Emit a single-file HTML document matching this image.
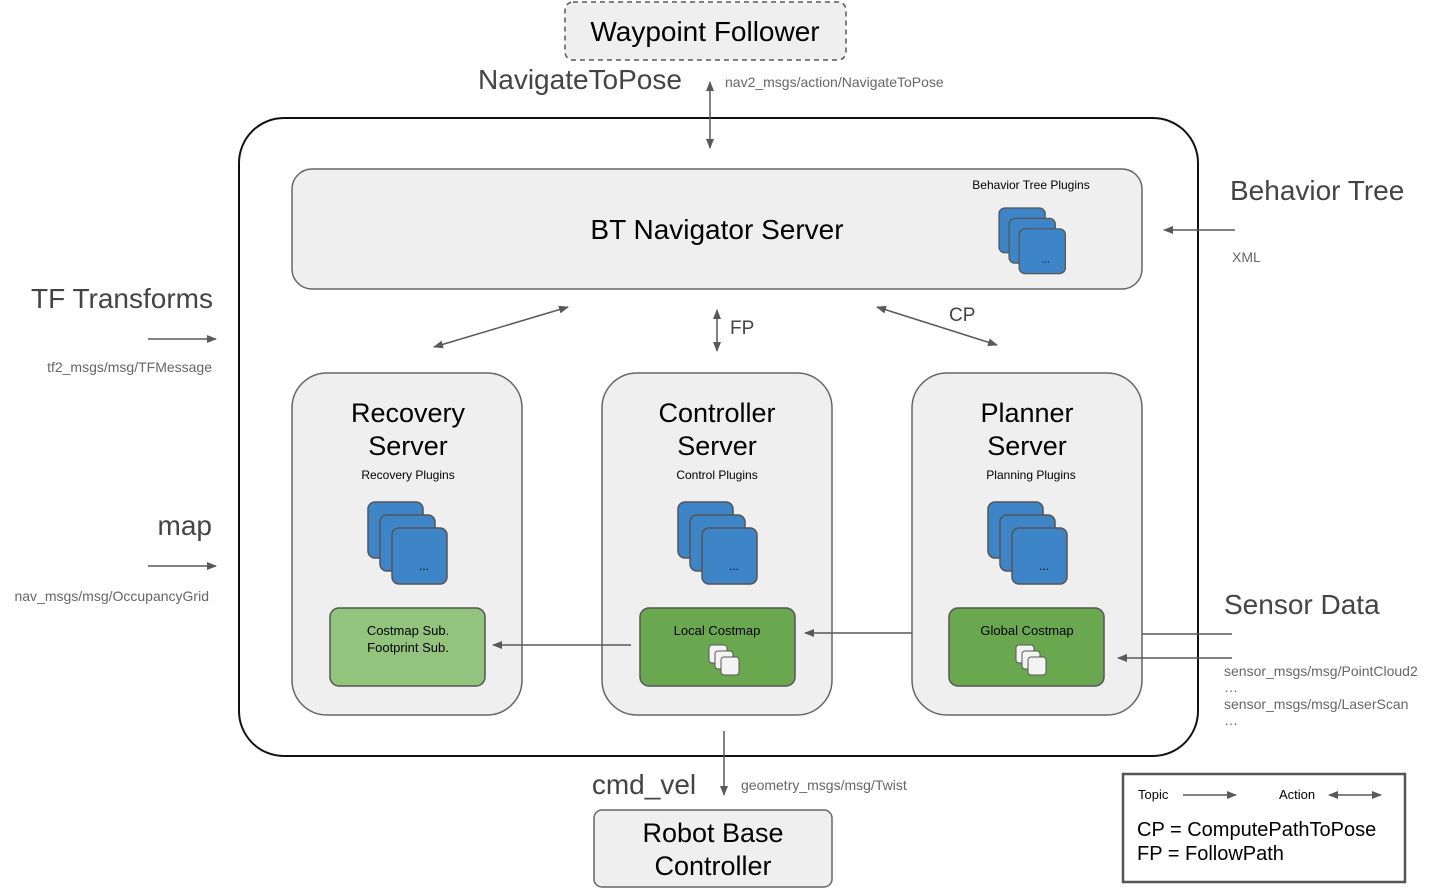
<!DOCTYPE html>
<html><head><style>
html,body{margin:0;padding:0;background:#fff;width:1440px;height:888px;overflow:hidden}
svg text{font-family:"Liberation Sans",Arial,sans-serif}
</style></head><body>
<svg width="1440" height="888" viewBox="0 0 1440 888" xmlns="http://www.w3.org/2000/svg">
<defs>
<marker id="a" viewBox="0 0 10 10" refX="9" refY="5" markerWidth="10" markerHeight="10" markerUnits="userSpaceOnUse" orient="auto-start-reverse"><path d="M0,1 L10,5 L0,9 z" fill="#595959"/></marker>
<g id="stk">
<rect x="0" y="0" width="55" height="56" rx="7" fill="#3d85c6" stroke="#555" stroke-width="1.5"/>
<rect x="12" y="13" width="55" height="56" rx="7" fill="#3d85c6" stroke="#555" stroke-width="1.5"/>
<rect x="24" y="26" width="55" height="56" rx="7" fill="#3d85c6" stroke="#555" stroke-width="1.5"/>
<text x="56" y="68" font-size="12" text-anchor="middle" fill="#000">...</text>
</g>
<g id="mini">
<rect x="0" y="0" width="18" height="18" rx="3" fill="#f3f3f3" stroke="#555"/>
<rect x="6" y="6" width="18" height="18" rx="3" fill="#f3f3f3" stroke="#555"/>
<rect x="12" y="12" width="18" height="18" rx="3" fill="#f3f3f3" stroke="#555"/>
</g>
</defs>
<rect x="565" y="2" width="281" height="58" rx="8" fill="#efefef" stroke="#595959" stroke-width="1.5" stroke-dasharray="5,4"/>
<text x="705" y="41" font-size="28" text-anchor="middle" fill="#000">Waypoint Follower</text>
<text x="580" y="89" font-size="28" text-anchor="middle" fill="#444">NavigateToPose</text>
<text x="725" y="87" font-size="14" fill="#666">nav2_msgs/action/NavigateToPose</text>

<rect x="239" y="118" width="959" height="638" rx="45" fill="#fff" stroke="#111" stroke-width="2"/>
<g stroke="#595959" stroke-width="1.5" fill="none">
<line x1="710" y1="82" x2="710" y2="148" marker-start="url(#a)" marker-end="url(#a)"/>
</g>
<rect x="292" y="169" width="850" height="120" rx="20" fill="#efefef" stroke="#666" stroke-width="1.5"/>
<text x="717" y="239" font-size="28" text-anchor="middle" fill="#000">BT Navigator Server</text>
<text x="1031" y="189" font-size="12" text-anchor="middle" fill="#000">Behavior Tree Plugins</text>
<g transform="translate(999,208) scale(0.84,0.8)"><use href="#stk"/></g>

<rect x="292" y="373" width="230" height="342" rx="35" fill="#efefef" stroke="#666" stroke-width="1.5"/>
<rect x="602" y="373" width="230" height="342" rx="35" fill="#efefef" stroke="#666" stroke-width="1.5"/>
<rect x="912" y="373" width="230" height="342" rx="35" fill="#efefef" stroke="#666" stroke-width="1.5"/>
<g font-size="27" text-anchor="middle" fill="#000">
<text x="408" y="422">Recovery</text><text x="408" y="455">Server</text>
<text x="717" y="422">Controller</text><text x="717" y="455">Server</text>
<text x="1027" y="422">Planner</text><text x="1027" y="455">Server</text>
</g>
<g font-size="12" text-anchor="middle" fill="#000">
<text x="408" y="479">Recovery Plugins</text>
<text x="717" y="479">Control Plugins</text>
<text x="1031" y="479">Planning Plugins</text>
</g>
<use href="#stk" x="368" y="502"/>
<use href="#stk" x="678" y="502"/>
<use href="#stk" x="988" y="502"/>

<rect x="330" y="608" width="155" height="78" rx="9" fill="#93c47d" stroke="#555" stroke-width="1.5"/>
<text x="408" y="635" font-size="13" text-anchor="middle" fill="#000">Costmap Sub.</text>
<text x="408" y="652" font-size="13" text-anchor="middle" fill="#000">Footprint Sub.</text>
<rect x="640" y="608" width="155" height="78" rx="9" fill="#6aa84f" stroke="#555" stroke-width="1.5"/>
<text x="717" y="635" font-size="13" text-anchor="middle" fill="#000">Local Costmap</text>
<use href="#mini" x="709" y="645"/>
<rect x="949" y="608" width="155" height="78" rx="9" fill="#6aa84f" stroke="#555" stroke-width="1.5"/>
<text x="1027" y="635" font-size="13" text-anchor="middle" fill="#000">Global Costmap</text>
<use href="#mini" x="1016" y="645"/>

<g stroke="#595959" stroke-width="1.5" fill="none">
<line x1="568" y1="307" x2="434" y2="347" marker-start="url(#a)" marker-end="url(#a)"/>
<line x1="717" y1="310" x2="717" y2="351" marker-start="url(#a)" marker-end="url(#a)"/>
<line x1="877" y1="307" x2="997" y2="345" marker-start="url(#a)" marker-end="url(#a)"/>
<line x1="631" y1="645" x2="493" y2="645" marker-end="url(#a)"/>
<line x1="912" y1="633" x2="805" y2="633" marker-end="url(#a)"/>
<line x1="1142" y1="634" x2="1232" y2="634"/>
<line x1="1232" y1="658" x2="1118" y2="658" marker-end="url(#a)"/>
<line x1="1235" y1="230" x2="1164" y2="230" marker-end="url(#a)"/>
<line x1="148" y1="339" x2="216" y2="339" marker-end="url(#a)"/>
<line x1="148" y1="566" x2="216" y2="566" marker-end="url(#a)"/>
<line x1="724" y1="731" x2="724" y2="795" marker-end="url(#a)"/>
</g>
<text x="730" y="334" font-size="19" fill="#444">FP</text>
<text x="949" y="321" font-size="19" fill="#444">CP</text>

<text x="1230" y="200" font-size="28" fill="#444">Behavior Tree</text>
<text x="1232" y="262" font-size="14" fill="#666">XML</text>
<text x="213" y="308" font-size="28" text-anchor="end" fill="#444">TF Transforms</text>
<text x="212" y="372" font-size="14" text-anchor="end" fill="#666">tf2_msgs/msg/TFMessage</text>
<text x="212" y="535" font-size="28" text-anchor="end" fill="#444">map</text>
<text x="209" y="601" font-size="14" text-anchor="end" fill="#666">nav_msgs/msg/OccupancyGrid</text>
<text x="1224" y="614" font-size="28" fill="#444">Sensor Data</text>
<g font-size="14" fill="#666">
<text x="1224" y="676">sensor_msgs/msg/PointCloud2</text>
<text x="1224" y="692">…</text>
<text x="1224" y="709">sensor_msgs/msg/LaserScan</text>
<text x="1224" y="725">…</text>
</g>
<text x="644" y="794" font-size="28" text-anchor="middle" fill="#444">cmd_vel</text>
<text x="741" y="790" font-size="14" fill="#666">geometry_msgs/msg/Twist</text>

<rect x="594" y="810" width="238" height="77" rx="8" fill="#efefef" stroke="#666" stroke-width="1.5"/>
<text x="713" y="842" font-size="27" text-anchor="middle" fill="#000">Robot Base</text>
<text x="713" y="875" font-size="27" text-anchor="middle" fill="#000">Controller</text>

<rect x="1123" y="774" width="282" height="108" fill="#fff" stroke="#555" stroke-width="2.5"/>
<text x="1138" y="799" font-size="13" fill="#000">Topic</text>
<text x="1279" y="799" font-size="13" fill="#000">Action</text>
<g stroke="#595959" stroke-width="1.5">
<line x1="1183" y1="795" x2="1236" y2="795" marker-end="url(#a)"/>
<line x1="1329" y1="795" x2="1381" y2="795" marker-start="url(#a)" marker-end="url(#a)"/>
</g>
<text x="1137" y="836" font-size="20" fill="#000">CP = ComputePathToPose</text>
<text x="1137" y="860" font-size="20" fill="#000">FP = FollowPath</text>
</svg>
</body></html>
